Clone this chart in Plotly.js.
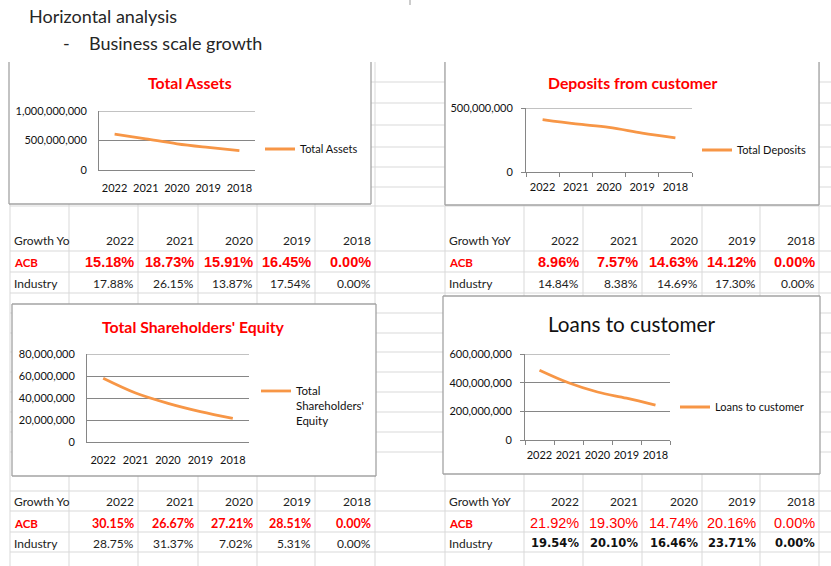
<!DOCTYPE html>
<html>
<head>
<meta charset="utf-8">
<script src="https://cdn.plot.ly/plotly-3.0.1.min.js"></script>
<style>html,body{margin:0;padding:0;background:#fff;}#chart{width:831px;height:566px;}</style>
</head>
<body>
<div id="chart"></div>
<script>
// ---------- data ----------
const years = ['2022', '2021', '2020', '2019', '2018'];
const totalAssets   = [607875000, 527770000, 444504000, 383514000, 329333000];
const totalDeposits = [409000000, 375400000, 349000000, 304500000, 266800000];
const totalEquity   = [57900000, 44490000, 35120000, 27610000, 21480000];
const totalLoans    = [487000000, 399500000, 334900000, 291900000, 242900000];

const assetsAcb   = [15.18, 18.73, 15.91, 16.45, 0.00];
const assetsInd   = [17.88, 26.15, 13.87, 17.54, 0.00];
const depositsAcb = [8.96, 7.57, 14.63, 14.12, 0.00];
const depositsInd = [14.84, 8.38, 14.69, 17.30, 0.00];
const equityAcb   = [30.15, 26.67, 27.21, 28.51, 0.00];
const equityInd   = [28.75, 31.37, 7.02, 5.31, 0.00];
const loansAcb    = [21.92, 19.30, 14.74, 20.16, 0.00];
const loansInd    = [19.54, 20.10, 16.46, 23.71, 0.00];

// ---------- helpers ----------
const W = 831, H = 566;
const px = x => x / W;
const py = y => 1 - y / H;
const F = 'Lato, "Open Sans", sans-serif';
const ARIAL = '"Liberation Sans", Arial, sans-serif';
const ORANGE = '#F79646';
const AX = '#868686';
const RED = '#FF0000';

const shapes = [];
const annotations = [];

// spreadsheet grid
const vLines = [10, 69, 138, 198, 257, 315, 375, 445, 524, 583, 642, 702, 760, 819];
const hLines = [82, 103, 125, 147, 167, 187, 206, 251, 272, 293, 313, 333, 352, 372, 392, 412, 432, 452, 491, 511, 532, 552];
vLines.forEach(x => shapes.push({type:'line', xref:'paper', yref:'paper', x0:px(x), x1:px(x), y0:py(62), y1:py(566), line:{color:'#d9d9d9', width:1}, layer:'below'}));
hLines.forEach(y => shapes.push({type:'line', xref:'paper', yref:'paper', x0:px(10), x1:px(831), y0:py(y), y1:py(y), line:{color:'#d9d9d9', width:1}, layer:'below'}));
// page marker
shapes.push({type:'line', xref:'paper', yref:'paper', x0:px(410), x1:px(410), y0:py(0), y1:py(5), line:{color:'#999', width:1}, layer:'below'});

// chart boxes
function box(x0, y0, x1, y1, openTop) {
  shapes.push({type:'rect', xref:'paper', yref:'paper', x0:px(x0), x1:px(x1), y0:py(y1), y1:py(y0), fillcolor:'#fff', line:{width:0}, layer:'below'});
  const L = {color:'#a3a3a3', width:1.3};
  shapes.push({type:'line', xref:'paper', yref:'paper', x0:px(x0), x1:px(x0), y0:py(y0), y1:py(y1), line:L, layer:'below'});
  shapes.push({type:'line', xref:'paper', yref:'paper', x0:px(x1), x1:px(x1), y0:py(y0), y1:py(y1), line:L, layer:'below'});
  shapes.push({type:'line', xref:'paper', yref:'paper', x0:px(x0), x1:px(x1), y0:py(y1), y1:py(y1), line:L, layer:'below'});
  if (!openTop) shapes.push({type:'line', xref:'paper', yref:'paper', x0:px(x0), x1:px(x1), y0:py(y0), y1:py(y0), line:L, layer:'below'});
}
box(9, 62, 371, 204, true);
box(445, 62, 819, 205, true);
box(12, 304, 376, 476, false);
box(443, 296, 820, 474, false);

// top gridline of each chart (Plotly clips gridlines at the range end)
const yMax = [1000000000, 500000000, 80000000, 600000000];
yMax.forEach((m, i) => {
  const s = i === 0 ? '' : String(i + 1);
  shapes.push({type:'line', xref:'x' + s + ' domain', yref:'y' + s, x0:0, x1:1, y0:m, y1:m, line:{color:AX, width:1}, layer:'below'});
});

// document headings
function text(t, x, y, font, xanchor) {
  annotations.push({text:t, xref:'paper', yref:'paper', x:px(x), y:py(y), xanchor:xanchor || 'left', yanchor:'middle', showarrow:false, font:font, borderpad:0});
}
const headF = {family:F, size:18, color:'#262626'};
text('Horizontal analysis', 28, 16, headF);
text('-', 62, 43, headF);
text('Business scale growth', 88, 43, headF);

// chart titles
text('Total Assets', 190, 82, {family:F, size:15.8, color:RED, weight:700}, 'center');
text('Deposits from customer', 632, 82, {family:F, size:15.8, color:RED, weight:700}, 'center');
text("Total Shareholders' Equity", 193, 326, {family:F, size:15.8, color:RED, weight:700}, 'center');
text('Loans to customer', 631, 324, {family:F, size:20.7, color:'#111'}, 'center');

// tables
const fmt = v => v.toFixed(2) + '%';
function table(cols, rows, header, acb, ind, acbFont, indFont) {
  const lab = {family:F, size:12, color:'#222'};
  text(header, cols[0] + 3, rows[0], lab);
  text('ACB', cols[0] + 3, rows[1], {family:F, size:11.5, color:RED, weight:700});
  text('Industry', cols[0] + 3, rows[2], lab);
  years.forEach((yr, i) => {
    const xr = cols[i + 2] - 3;
    text(yr, xr, rows[0], lab, 'right');
    text(fmt(acb[i]), xr, rows[1], acbFont, 'right');
    text(fmt(ind[i]), xr, rows[2], indFont, 'right');
  });
}
const colsL = [10, 69, 138, 198, 257, 315, 375];
const colsR = [445, 524, 583, 642, 702, 760, 819];
const bigRed = {family:ARIAL, size:14.5, color:RED, weight:700};
const plain = {family:F, size:12, color:'#222'};
table(colsL, [240, 262, 283], 'Growth Yo', assetsAcb, assetsInd, bigRed, plain);
table(colsR, [240, 262, 283], 'Growth YoY', depositsAcb, depositsInd, bigRed, plain);
table(colsL, [501, 523, 543], 'Growth Yo', equityAcb, equityInd, {family:F, size:12.5, color:RED, weight:700}, plain);
table(colsR, [501, 523, 543], 'Growth YoY', loansAcb, loansInd, {family:ARIAL, size:14.5, color:RED}, {family:'"DejaVu Sans", sans-serif', size:11.5, color:'#111', weight:700});

// ---------- traces ----------
const series = [
  {name:'Total Assets', y:totalAssets},
  {name:'Total Deposits', y:totalDeposits},
  {name:"Total<br>Shareholders'<br>Equity", y:totalEquity},
  {name:'Loans to customer', y:totalLoans}
];
const data = series.map((s, i) => ({
  type:'scatter', mode:'lines', x:years, y:s.y, name:s.name,
  xaxis: i === 0 ? 'x' : 'x' + (i + 1),
  yaxis: i === 0 ? 'y' : 'y' + (i + 1),
  legend: i === 0 ? 'legend' : 'legend' + (i + 1),
  line:{color:ORANGE, width:2.8, shape:'spline', smoothing:1},
  showlegend:true, hoverinfo:'skip'
}));

// ---------- axes ----------
const tickF = {family:F, size:11, color:'#111'};
function xAxis(x0, x1, ticks) {
  return {domain:[px(x0), px(x1)], type:'category', categoryorder:'array', categoryarray:years,
    range:[-0.5, 4.5], showgrid:false, zeroline:false, showline:true, linecolor:AX, linewidth:1,
    ticks: ticks ? 'outside' : '', tickson:'boundaries', ticklen:4, tickcolor:AX, tickwidth:1,
    tickangle:0, tickfont:tickF, ticklabelstandoff: ticks ? 5 : 8, fixedrange:true};
}
function yAxis(y0, y1, max, step, ticks) {
  const vals = [];
  for (let v = 0; v <= max + 1; v += step) vals.push(v);
  return {domain:[py(y1), py(y0)], range:[0, max], tickvals:vals, tickformat:',',
    showgrid:true, gridcolor:AX, gridwidth:1, zeroline:false, showline:true, linecolor:AX, linewidth:1,
    ticks: ticks ? 'outside' : '', ticklen:4, tickcolor:AX, tickfont:tickF,
    ticklabelstandoff: ticks ? 6 : 9, fixedrange:true};
}

const legF = {family:F, size:11, color:'#111'};
const layout = {
  width:W, height:H, margin:{l:0, r:0, t:0, b:0},
  paper_bgcolor:'#fff', plot_bgcolor:'#fff',
  font:{family:F, color:'#111'},
  xaxis: Object.assign(xAxis(99, 255, false), {anchor:'y'}),
  yaxis: Object.assign(yAxis(111, 170, yMax[0], 500000000, false), {anchor:'x'}),
  xaxis2: Object.assign(xAxis(526, 692, true), {anchor:'y2'}),
  yaxis2: Object.assign(yAxis(108, 172, yMax[1], 500000000, true), {anchor:'x2'}),
  xaxis3: Object.assign(xAxis(87, 249, false), {anchor:'y3'}),
  yaxis3: Object.assign(yAxis(354, 442, yMax[2], 20000000, false), {anchor:'x3'}),
  xaxis4: Object.assign(xAxis(525, 670, true), {anchor:'y4'}),
  yaxis4: Object.assign(yAxis(354, 440, yMax[3], 200000000, true), {anchor:'x4'}),
  legend:  {x:px(260), y:py(149), xanchor:'left', yanchor:'middle', bgcolor:'rgba(0,0,0,0)', font:legF},
  legend2: {x:px(697), y:py(150), xanchor:'left', yanchor:'middle', bgcolor:'rgba(0,0,0,0)', font:legF},
  legend3: {x:px(256), y:py(406), xanchor:'left', yanchor:'middle', valign:'top', bgcolor:'rgba(0,0,0,0)', font:{family:F, size:11.5, color:'#111'}},
  legend4: {x:px(675), y:py(407), xanchor:'left', yanchor:'middle', bgcolor:'rgba(0,0,0,0)', font:legF},
  shapes:shapes,
  annotations:annotations
};

Plotly.newPlot('chart', data, layout, {displayModeBar:false, staticPlot:true});
</script>
</body>
</html>
